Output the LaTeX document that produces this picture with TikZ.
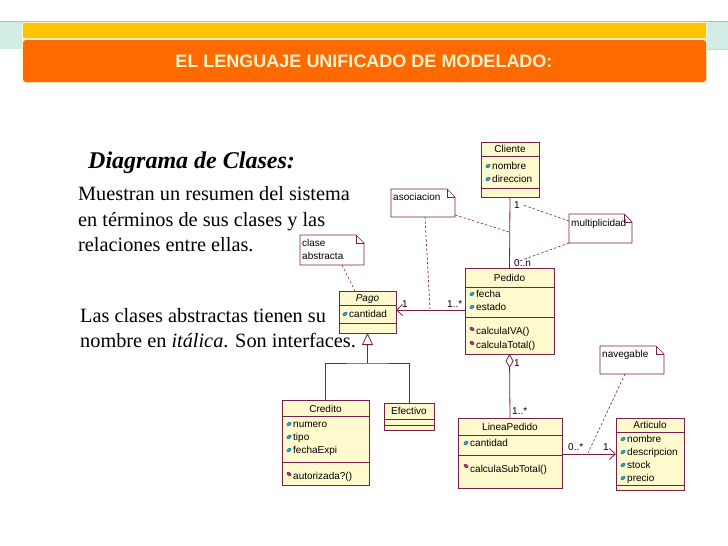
\documentclass[tikz,border=0pt]{standalone}
\usepackage{fontspec}
\setmainfont{Liberation Serif}
\setsansfont{Liberation Sans}
\usetikzlibrary{arrows.meta,calc}
\definecolor{clsfill}{HTML}{FFFACD}
\definecolor{clsline}{HTML}{7A1F48}
\definecolor{bandteal}{HTML}{D2EDE6}
\definecolor{hdrorange}{HTML}{FF6A00}
\definecolor{hdryellow}{HTML}{FFC400}
\definecolor{hdrcream}{HTML}{FFF3CC}
\definecolor{attricon}{HTML}{2E9FD0}
\definecolor{opicon}{HTML}{B0307A}
\tikzset{
  cls/.style={draw=clsline, fill=clsfill, line width=0.8, inner sep=0, outer sep=0},
  notebox/.style={inner sep=0, outer sep=0},
  noteline/.style={draw=clsline, fill=white, line width=0.7},
  umltxt/.style={font=\sffamily\fontsize{10}{11}\selectfont, inner sep=0, anchor=base west},
  umltitle/.style={font=\sffamily\fontsize{10}{11}\selectfont, inner sep=0, anchor=base},
  assoc/.style={draw=clsline, line width=0.8},
  dashln/.style={draw=clsline, line width=0.6, dash pattern=on 2.5pt off 2pt},
  lbl/.style={font=\sffamily\fontsize{10}{11}\selectfont, inner sep=0, anchor=base west},
  body/.style={font=\fontsize{20.3}{24}\selectfont, inner sep=0, anchor=base west},
  aico/.pic={\filldraw[fill=attricon, draw=attricon!60!black, line width=0.3, rotate=35] (0,0) ellipse (2.5 and 1.6);},
  oico/.pic={\filldraw[fill=opicon, draw=opicon!60!black, line width=0.3, rotate=-35] (0,0) ellipse (2.5 and 1.6);}
}
\begin{document}
\begin{tikzpicture}[x=1pt,y=-1pt]
\useasboundingbox (0,0) rectangle (728,546);
\fill[white] (0,0) rectangle (728,546);
% header
\fill[bandteal] (0,22) rectangle (728,49);
\draw[gray!55, line width=1] (0,21.5) -- (728,21.5);
\draw[gray!35, line width=0.6] (706,49) -- (728,49);
\fill[hdrcream, rounded corners=3] (22,22) rectangle (707,83);
\fill[hdrorange, rounded corners=3] (23,40) rectangle (706,82);
\fill[hdryellow] (23,23) rectangle (706,38);
\node[font=\sffamily\bfseries\fontsize{18}{20}\selectfont, text=hdrcream, inner sep=0] (title) at (364,61) {EL LENGUAJE UNIFICADO DE MODELADO:};
% body text
\node[font=\fontsize{24}{28}\selectfont\bfseries\itshape, inner sep=0, anchor=base west] (hd) at (88,168) {Diagrama de Clases:};
\node[body] (b1) at (78,200) {Muestran un resumen del sistema};
\node[body] (b2) at (78,226) {en términos de sus clases y las};
\node[body] (b3) at (78,251) {relaciones entre ellas.};
\node[body] (b4) at (80,322) {Las clases abstractas tienen su};
\node[body] (b5) at (80,347) {nombre en \textit{itálica}. Son interfaces.};
% ---------- notes
\node[notebox, minimum width=64, minimum height=28] (nAsoc) at (423,203) {};
\node[notebox, minimum width=63, minimum height=29] (nMult) at (600.5,228.5) {};
\node[notebox, minimum width=64, minimum height=30] (nAbs) at (332,250) {};
\node[notebox, minimum width=64, minimum height=28] (nNav) at (632,360) {};
\foreach \n in {nAsoc,nMult,nAbs,nNav}{
  \path[noteline] (\n.north west) -- ($(\n.north east)+(-8,0)$) -- ($(\n.north east)+(0,8)$) -- (\n.south east) -- (\n.south west) -- cycle;
  \draw[clsline, line width=0.6] ($(\n.north east)+(-8,0)$) -- ($(\n.north east)+(-8,8)$) -- ($(\n.north east)+(0,8)$);
}
\node[umltxt] (tAsoc) at (393,200) {asociacion};
\node[umltxt] (tMult) at (571,226) {multiplicidad};
\node[umltxt] (tAbs1) at (302,246) {clase};
\node[umltxt] (tAbs2) at (302,259) {abstracta};
\node[umltxt] (tNav) at (602,357) {navegable};
% ---------- classes
% Cliente
\node[cls, minimum width=58, minimum height=55] (cliente) at (510,169.5) {};
\draw[clsline, line width=0.8] (481,156) -- (539,156) (481,188) -- (539,188);
\node[umltitle] (cliT) at (510,152.5) {Cliente};
\pic at (488,166) {aico}; \node[umltxt] (cl1) at (492,169.5) {nombre};
\pic at (488,179) {aico}; \node[umltxt] (cl2) at (492,182.5) {direccion};
% Pedido
\node[cls, minimum width=89, minimum height=86] (pedido) at (509.5,311) {};
\draw[clsline, line width=0.8] (465,287) -- (554,287) (465,317) -- (554,317);
\node[umltitle] (peT) at (509.5,281.5) {Pedido};
\pic at (472,294) {aico}; \node[umltxt] (pe1) at (476,297.5) {fecha};
\pic at (472,307) {aico}; \node[umltxt] (pe2) at (476,310.5) {estado};
\pic at (472,329) {oico}; \node[umltxt] (pe3) at (476,334.5) {calculaIVA()};
\pic at (472,343) {oico}; \node[umltxt] (pe4) at (476,348.5) {calculaTotal()};
% Pago
\node[cls, minimum width=57, minimum height=42] (pago) at (367.5,312) {};
\draw[clsline, line width=0.8] (339,305) -- (396,305) (339,323) -- (396,323);
\node[umltitle] (paT) at (367.5,301.5) {\itshape Pago};
\pic at (345,314) {aico}; \node[umltxt] (pa1) at (349,317.5) {cantidad};
% Credito
\node[cls, minimum width=87, minimum height=85] (credito) at (325.5,442.5) {};
\draw[clsline, line width=0.8] (282,416) -- (369,416) (282,462) -- (369,462);
\node[umltitle] (crT) at (325.5,412) {Credito};
\pic at (289,424) {aico}; \node[umltxt] (cr1) at (293,427.5) {numero};
\pic at (289,437) {aico}; \node[umltxt] (cr2) at (293,440.5) {tipo};
\pic at (289,450) {aico}; \node[umltxt] (cr3) at (293,453.5) {fechaExpi};
\pic at (289,474) {oico}; \node[umltxt] (cr4) at (293,479.5) {autorizada?()};
% Efectivo
\node[cls, minimum width=50, minimum height=27] (efectivo) at (409,416.5) {};
\draw[clsline, line width=0.8] (384,419) -- (434,419) (384,425) -- (434,425);
\node[umltitle] (efT) at (409,414.5) {Efectivo};
% LineaPedido
\node[cls, minimum width=104, minimum height=70] (linea) at (510,453) {};
\draw[clsline, line width=0.8] (458,435) -- (562,435) (458,455) -- (562,455);
\node[umltitle] (liT) at (510,430.5) {LineaPedido};
\pic at (466,443) {aico}; \node[umltxt] (li1) at (470,446.5) {cantidad};
\pic at (466,466) {oico}; \node[umltxt] (li2) at (470,472) {calculaSubTotal()};
% Articulo
\node[cls, minimum width=68, minimum height=72] (articulo) at (650,454) {};
\draw[clsline, line width=0.8] (616,432) -- (684,432) (616,485) -- (684,485);
\node[umltitle] (arT) at (650,428.5) {Articulo};
\pic at (623,439) {aico}; \node[umltxt] (ar1) at (627,442.5) {nombre};
\pic at (623,452) {aico}; \node[umltxt] (ar2) at (627,455.5) {descripcion};
\pic at (623,465) {aico}; \node[umltxt] (ar3) at (627,468.5) {stock};
\pic at (623,478) {aico}; \node[umltxt] (ar4) at (627,481.5) {precio};
% ---------- connectors
\draw[assoc] (cliente.south) -- (pedido.north);
\node[lbl] (m1) at (514,208) {1};
\node[lbl] (m2) at (514,266) {0..n};
\coordinate (pp) at (465,310);
\draw[assoc, -{Straight Barb[length=6,width=11,line width=0.8]}] (pp) -- (pp -| pago.east);
\node[lbl] (m3) at (402,307) {1};
\node[lbl] (m4) at (447,307) {1..*};
% inheritance
\coordinate (hj) at (367.5,363);
\draw[assoc] (credito.north) |- (hj) -| (efectivo.north);
\draw[assoc, -{Triangle[open,length=12,width=11,fill=white]}] (hj) -- (pago.south);
% aggregation
\draw[assoc, {Diamond[open,length=14,width=8,fill=white]}-] (pedido.south) -- (linea.north);
\node[lbl] (m5) at (514,366) {1};
\node[lbl] (m6) at (512,414) {1..*};
% navigable
\coordinate (lp) at (562,454);
\draw[assoc, -{Straight Barb[length=6,width=11,line width=0.8]}] (lp) -- (lp -| articulo.west);
\node[lbl] (m7) at (568,450) {0..*};
\node[lbl] (m8) at (603,450) {1};
% note links
\coordinate (c1) at (509,232);
\coordinate (c2) at (430,309);
\coordinate (c3) at (523,205);
\coordinate (c4) at (517,262);
\coordinate (c5) at (355,291);
\coordinate (c6) at (588,453);
\draw[dashln] (nAsoc.south east) ++(0,-2) -- (c1);
\draw[dashln] (nAsoc.south) ++(2,0) -- (c2);
\draw[dashln] (nMult.north west) ++(0,7) -- (c3);
\draw[dashln] (nMult.south west) -- (c4);
\draw[dashln] (nAbs.south) ++(10,0) -- (c5);
\draw[dashln] (nNav.south) ++(-7,0) -- (c6);
\end{tikzpicture}
\end{document}
